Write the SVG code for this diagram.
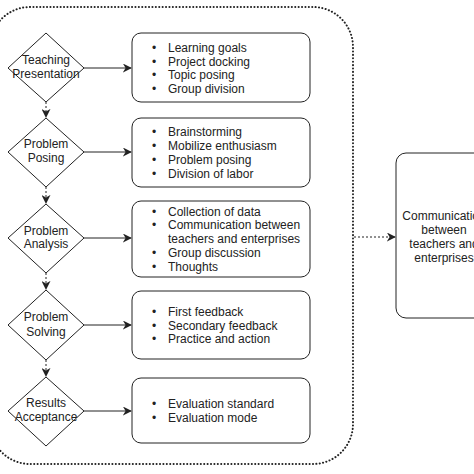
<svg xmlns="http://www.w3.org/2000/svg" width="474" height="474" viewBox="0 0 474 474">
<style>
text{font-family:"Liberation Sans",Arial,sans-serif;font-size:12px;fill:#222}
.c{text-anchor:middle}
.n{fill:#fff;stroke:#222;stroke-width:1}
.s{stroke:#222;stroke-width:1;fill:none}
.d{stroke:#222;stroke-width:1;fill:none;stroke-dasharray:2 2}
</style>
<defs>
<marker id="a" viewBox="0 0 10 10" refX="9" refY="5" markerWidth="9" markerHeight="9" markerUnits="userSpaceOnUse" orient="auto">
<path d="M0,0 L10,5 L0,10 L3,5 Z" fill="#222"/>
</marker>
</defs>
<rect width="474" height="474" fill="#fff"/>
<rect id="container" x="-10" y="7" width="363" height="457" rx="40" ry="40" fill="none" stroke="#222" stroke-width="2" stroke-dasharray="0.1 3.3" stroke-linecap="round"/>
<g id="connectors">
<path class="s" d="M84,68 L131,68" marker-end="url(#a)"/>
<path class="s" d="M84,152 L131,152" marker-end="url(#a)"/>
<path class="s" d="M84,238 L131,238" marker-end="url(#a)"/>
<path class="s" d="M84,325 L131,325" marker-end="url(#a)"/>
<path class="s" d="M84,411 L131,411" marker-end="url(#a)"/>
<path class="d" d="M46,102 L46,117" marker-end="url(#a)"/>
<path class="d" d="M46,187 L46,203" marker-end="url(#a)"/>
<path class="d" d="M46,273 L46,289" marker-end="url(#a)"/>
<path class="d" d="M46,360 L46,376" marker-end="url(#a)"/>
<path class="d" d="M354,237 L395,237" marker-end="url(#a)"/>
</g>
<g id="teaching">
<path class="n" d="M46,33 L84,68 L46,102 L8,68 Z"/>
<text class="c" x="46" y="64">Teaching</text>
<text class="c" x="46" y="78">Presentation</text>
</g>
<g id="posing">
<path class="n" d="M46,118 L84,152 L46,187 L8,152 Z"/>
<text class="c" x="46" y="148">Problem</text>
<text class="c" x="46" y="162">Posing</text>
</g>
<g id="analysis">
<path class="n" d="M46,204 L84,238 L46,273 L8,238 Z"/>
<text class="c" x="46" y="235">Problem</text>
<text class="c" x="46" y="248">Analysis</text>
</g>
<g id="solving">
<path class="n" d="M46,290 L84,325 L46,360 L8,325 Z"/>
<text class="c" x="46" y="321">Problem</text>
<text class="c" x="46" y="336">Solving</text>
</g>
<g id="acceptance">
<path class="n" d="M46,377 L84,411 L46,446 L8,411 Z"/>
<text class="c" x="46" y="407">Results</text>
<text class="c" x="46" y="421">Acceptance</text>
</g>
<g id="box1">
<rect class="n" x="132" y="33" width="178" height="69" rx="9"/>
<text x="152" y="52">•</text><text x="168" y="52">Learning goals</text>
<text x="152" y="66">•</text><text x="168" y="66">Project docking</text>
<text x="152" y="79">•</text><text x="168" y="79">Topic posing</text>
<text x="152" y="93">•</text><text x="168" y="93">Group division</text>
</g>
<g id="box2">
<rect class="n" x="132" y="118" width="178" height="69" rx="9"/>
<text x="152" y="136">•</text><text x="168" y="136">Brainstorming</text>
<text x="152" y="150">•</text><text x="168" y="150">Mobilize enthusiasm</text>
<text x="152" y="164">•</text><text x="168" y="164">Problem posing</text>
<text x="152" y="178">•</text><text x="168" y="178">Division of labor</text>
</g>
<g id="box3">
<rect class="n" x="132" y="201" width="178" height="76" rx="9"/>
<text x="152" y="216">•</text><text x="168" y="216">Collection of data</text>
<text x="152" y="229">•</text><text x="168" y="229">Communication between</text>
<text x="168" y="243">teachers and enterprises</text>
<text x="152" y="257">•</text><text x="168" y="257">Group discussion</text>
<text x="152" y="271">•</text><text x="168" y="271">Thoughts</text>
</g>
<g id="box4">
<rect class="n" x="132" y="291" width="178" height="68" rx="9"/>
<text x="152" y="316">•</text><text x="168" y="316">First feedback</text>
<text x="152" y="330">•</text><text x="168" y="330">Secondary feedback</text>
<text x="152" y="343">•</text><text x="168" y="343">Practice and action</text>
</g>
<g id="box5">
<rect class="n" x="132" y="378" width="178" height="65" rx="9"/>
<text x="152" y="408">•</text><text x="168" y="408">Evaluation standard</text>
<text x="152" y="422">•</text><text x="168" y="422">Evaluation mode</text>
</g>
<g id="communication">
<rect class="n" x="396" y="153" width="96" height="165" rx="10"/>
<text class="c" x="444" y="220">Communication</text>
<text class="c" x="444" y="234">between</text>
<text class="c" x="444" y="248">teachers and</text>
<text class="c" x="444" y="262">enterprises</text>
</g>
</svg>
